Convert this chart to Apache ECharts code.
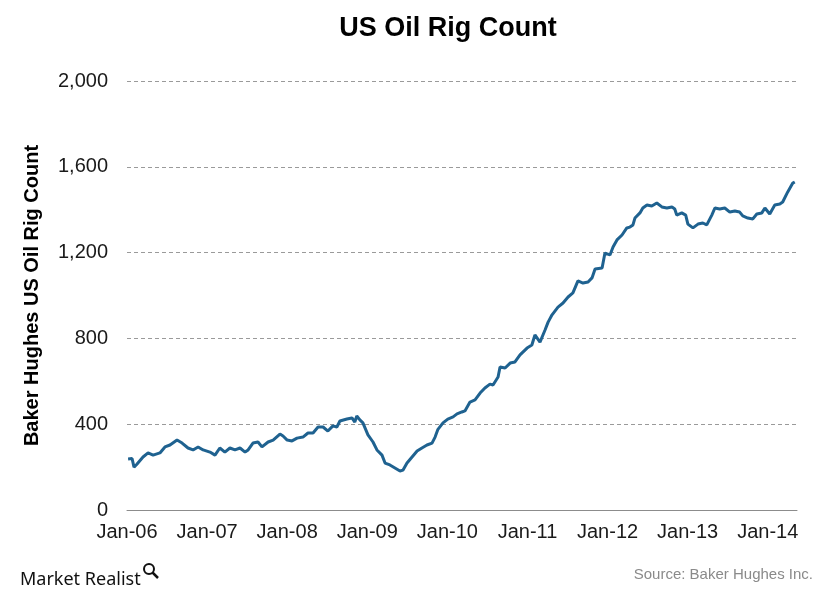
<!DOCTYPE html>
<html><head><meta charset="utf-8">
<script src="https://cdn.jsdelivr.net/npm/echarts@6/dist/echarts.min.js"></script>
<style>html,body{margin:0;padding:0;background:#fff}#c{width:840px;height:600px}</style>
</head><body><div id="c"></div>
<script>
const dates = [
'2006-01-06','2006-01-24','2006-02-02','2006-02-14','2006-03-15','2006-04-07','2006-04-30','2006-05-31','2006-06-23','2006-07-16','2006-08-17','2006-09-09','2006-10-06','2006-10-29','2006-11-21','2006-12-14',
'2007-01-14','2007-02-06','2007-02-28','2007-03-23','2007-04-15','2007-05-08','2007-05-31','2007-06-23','2007-07-07','2007-07-29','2007-08-21','2007-09-08','2007-10-06','2007-10-29','2007-11-29','2007-12-13',
'2008-01-01','2008-01-23','2008-02-15','2008-03-13','2008-04-05','2008-04-28','2008-05-21','2008-06-13','2008-07-05','2008-07-28','2008-08-15','2008-08-29','2008-09-30','2008-10-23','2008-11-05','2008-11-14','2008-11-28','2008-12-12',
'2009-01-04','2009-01-27','2009-02-14','2009-03-09','2009-03-23','2009-04-14','2009-05-07','2009-05-30','2009-06-13','2009-07-01','2009-07-24','2009-08-16','2009-09-07','2009-09-30','2009-10-23','2009-11-06','2009-11-19','2009-12-12',
'2010-01-03','2010-01-27','2010-02-14','2010-03-08','2010-03-22','2010-04-14','2010-05-07','2010-05-30','2010-06-21','2010-07-14','2010-07-28','2010-08-20','2010-08-29','2010-09-21','2010-10-14','2010-11-05','2010-11-28','2010-12-30',
'2011-01-21','2011-02-04','2011-02-27','2011-03-22','2011-04-05','2011-04-23','2011-05-20','2011-06-12','2011-07-05','2011-07-27','2011-08-19','2011-09-11','2011-10-04','2011-10-22','2011-11-05','2011-12-07','2011-12-20',
'2012-01-12','2012-01-26','2012-02-13','2012-03-07','2012-03-29','2012-04-12','2012-04-26','2012-05-05','2012-05-28','2012-06-10','2012-06-29','2012-07-21','2012-08-13','2012-09-05','2012-09-28','2012-10-21','2012-11-03','2012-11-12','2012-12-05','2012-12-23',
'2013-01-02','2013-01-25','2013-02-17','2013-03-11','2013-03-29','2013-04-21','2013-05-05','2013-05-27','2013-06-19','2013-07-12','2013-08-04','2013-08-26','2013-09-09','2013-10-02','2013-10-25','2013-11-12','2013-12-05','2013-12-19',
'2014-01-10','2014-02-02','2014-02-25','2014-03-10','2014-04-02','2014-04-25','2014-05-04'
];
const rigCount = [
238,240,200,212,247,266,256,266,294,303,326,312,289,280,294,280,
270,256,289,270,289,280,289,270,280,312,317,294,317,326,354,345,
326,322,335,340,359,359,387,387,368,392,387,415,424,429,410,438,420,406,
350,317,280,256,219,210,196,182,186,219,247,275,289,303,312,340,376,406,
424,434,448,457,462,503,513,545,569,587,583,620,667,662,685,690,723,755,
769,816,783,839,876,910,946,965,993,1012,1068,1058,1063,1082,1124,1128,1198,
1189,1226,1259,1282,1315,1319,1329,1361,1385,1408,1422,1417,1431,1413,1408,1413,1403,1375,1385,1375,
1333,1315,1333,1338,1329,1375,1408,1403,1408,1389,1394,1389,1371,1361,1357,1380,1385,1408,
1380,1422,1427,1436,1483,1524,1529
];
const yTicks = [0, 400, 800, 1200, 1600, 2000];
const xTickLabels = ['Jan-06','Jan-07','Jan-08','Jan-09','Jan-10','Jan-11','Jan-12','Jan-13','Jan-14'];

function toYear(s){
  const p = s.split('-').map(Number);
  const start = Date.UTC(p[0],0,1), end = Date.UTC(p[0]+1,0,1);
  return p[0] + (Date.UTC(p[0],p[1]-1,p[2]) - start) / (end - start);
}
const seriesData = dates.map((d,i)=>[toYear(d), rigCount[i]]);

const chart = echarts.init(document.getElementById('c'), null, {renderer:'canvas'});
chart.setOption({
  animation:false,
  backgroundColor:'#fff',
  grid:{left:127,right:43,top:81,bottom:90},
  xAxis:{
    type:'value', min:2006, max:2014.365, interval:1,
    axisLine:{show:true,lineStyle:{color:'#8c8c8c',width:1}},
    axisTick:{show:false},
    splitLine:{show:false},
    axisLabel:{
      showMaxLabel:false, margin:12,
      color:'#1a1a1a', fontSize:20, fontFamily:'Liberation Sans, Arial, sans-serif',
      formatter:function(v){ const r=Math.round(v); return Math.abs(v-r)<1e-6 ? (xTickLabels[r-2006]||'') : ''; }
    }
  },
  yAxis:{
    type:'value', min:yTicks[0], max:yTicks[yTicks.length-1], interval:yTicks[1]-yTicks[0],
    name:'Baker Hughes US Oil Rig Count', nameLocation:'middle', nameGap:85, nameRotate:90,
    nameTextStyle:{fontSize:20,fontWeight:'bold',color:'#000',fontFamily:'Liberation Sans, Arial, sans-serif'},
    axisLine:{show:false}, axisTick:{show:false},
    splitLine:{show:true,lineStyle:{color:'#9a9a9a',type:[4,3],width:1}},
    axisLabel:{margin:19,color:'#1a1a1a',fontSize:20,fontFamily:'Liberation Sans, Arial, sans-serif',
      formatter:function(v){ return v.toLocaleString('en-US'); }}
  },
  series:[{
    type:'line', data:seriesData, showSymbol:false, smooth:false,
    lineStyle:{color:'#1f6290',width:3}, z:5
  }],
  graphic:[
    {type:'text', x:448, y:29, style:{text:'US Oil Rig Count', fill:'#000', font:'bold 27px "Liberation Sans", Arial, sans-serif', textAlign:'center', textVerticalAlign:'middle'}},
    {type:'text', x:20, y:580, style:{text:'Market Realist', fill:'#111', font:'18px "Noto Sans", sans-serif', textAlign:'left', textVerticalAlign:'middle'}},
    {type:'circle', shape:{cx:149, cy:569, r:5}, style:{fill:'none', stroke:'#111', lineWidth:2}},
    {type:'line', shape:{x1:152.5, y1:572.5, x2:158, y2:578}, style:{stroke:'#111', lineWidth:2.5}},
    {type:'text', x:813, y:575, style:{text:'Source: Baker Hughes Inc.', fill:'#8a8a8a', font:'15px "Liberation Sans", Arial, sans-serif', textAlign:'right', textVerticalAlign:'middle'}}
  ]
});
</script></body></html>
